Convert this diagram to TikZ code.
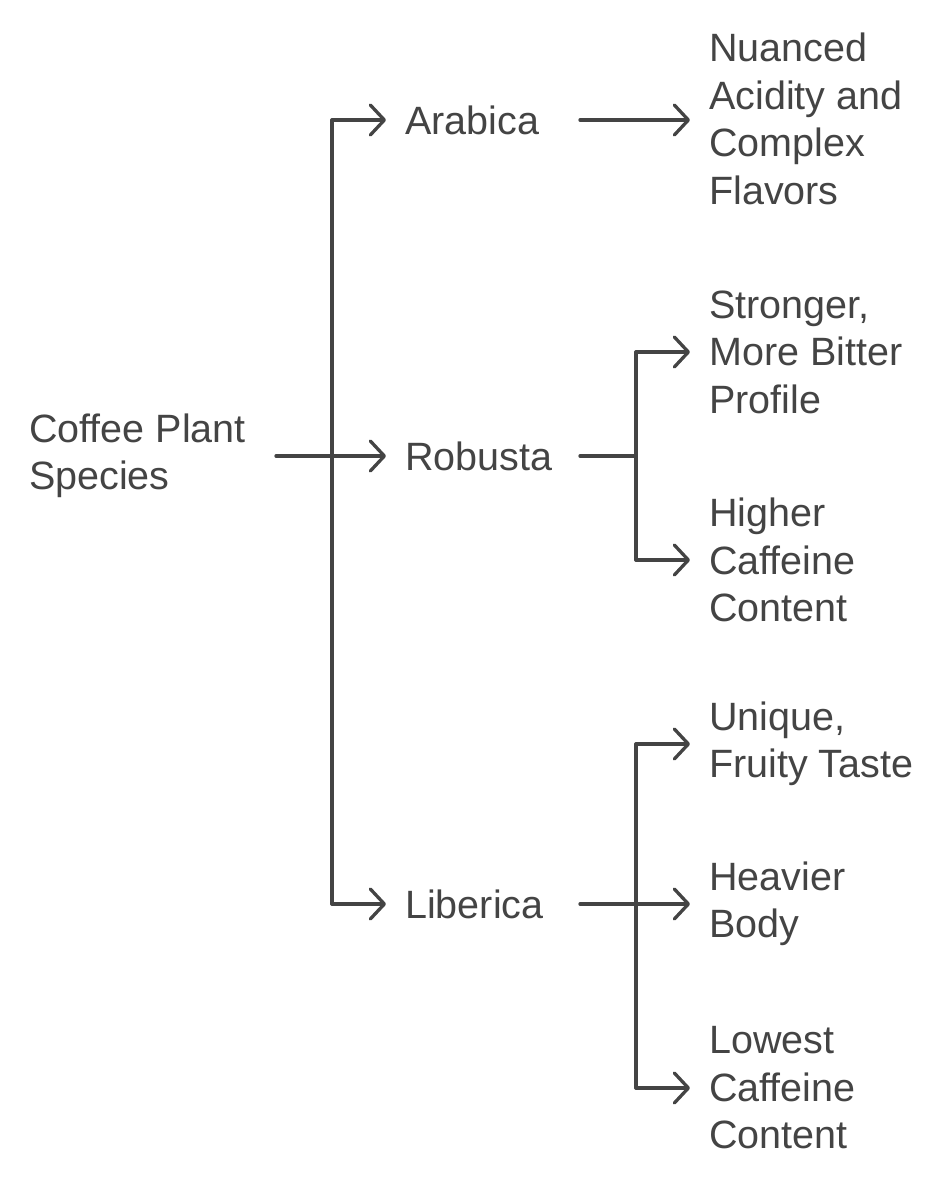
\documentclass[tikz,border=0pt]{standalone}
\usepackage{fontspec}
\setmainfont{Liberation Sans}
\usetikzlibrary{arrows.meta}
\definecolor{ink}{HTML}{444444}
\begin{document}
\begin{tikzpicture}[x=1pt,y=-1pt,
  lbl/.style={anchor=west,inner sep=0pt,align=left,text=ink,font=\fontsize{39.5}{47.5}\selectfont},
  conn/.style={draw=ink,line width=3.3pt,line cap=round,line join=round},
  arr/.style={conn,-{Straight Barb[length=14pt,width=30pt,line cap=round,line join=round]},shorten >=19pt}]
\useasboundingbox[fill=white] (0,0) rectangle (944,1184);
% nodes
\node[lbl] (cps) at (29,456) {Coffee Plant\\Species};
\node[lbl] (ara) at (405,120) {Arabica};
\node[lbl] (rob) at (405,456) {Robusta};
\node[lbl] (lib) at (405,904) {Liberica};
\node[lbl] (nua) at (709,119) {Nuanced\\Acidity and\\Complex\\Flavors};
\node[lbl] (str) at (709,352) {Stronger,\\More Bitter\\Profile};
\node[lbl] (hig) at (709,560) {Higher\\Caffeine\\Content};
\node[lbl] (uni) at (709,744) {Unique,\\Fruity Taste};
\node[lbl] (hea) at (709,904) {Heavier\\Body};
\node[lbl] (low) at (709,1088) {Lowest\\Caffeine\\Content};
% coordinates
\coordinate (cpsout) at (276,456);
\coordinate (ta) at (332,120);
\coordinate (tl) at (332,904);
\coordinate (araout) at (580,120);
\coordinate (robout) at (580,456);
\coordinate (rj) at (636,456);
\coordinate (rs) at (636,352);
\coordinate (rh) at (636,560);
\coordinate (libout) at (580,904);
\coordinate (lu) at (636,744);
\coordinate (ll) at (636,1088);
% connectors
\draw[conn] (ta) -- (tl);
\draw[arr] (cpsout) -- (rob.west);
\draw[arr] (ta) -- (ara.west);
\draw[arr] (tl) -- (lib.west);
\draw[arr] (araout) -- (nua.west |- araout);
\draw[conn] (robout) -- (rj);
\draw[conn] (rs) -- (rh);
\draw[arr] (rs) -- (str.west |- rs);
\draw[arr] (rh) -- (hig.west |- rh);
\draw[conn] (lu) -- (ll);
\draw[arr] (libout) -- (hea.west |- libout);
\draw[arr] (lu) -- (uni.west |- lu);
\draw[arr] (ll) -- (low.west |- ll);
\end{tikzpicture}
\end{document}
